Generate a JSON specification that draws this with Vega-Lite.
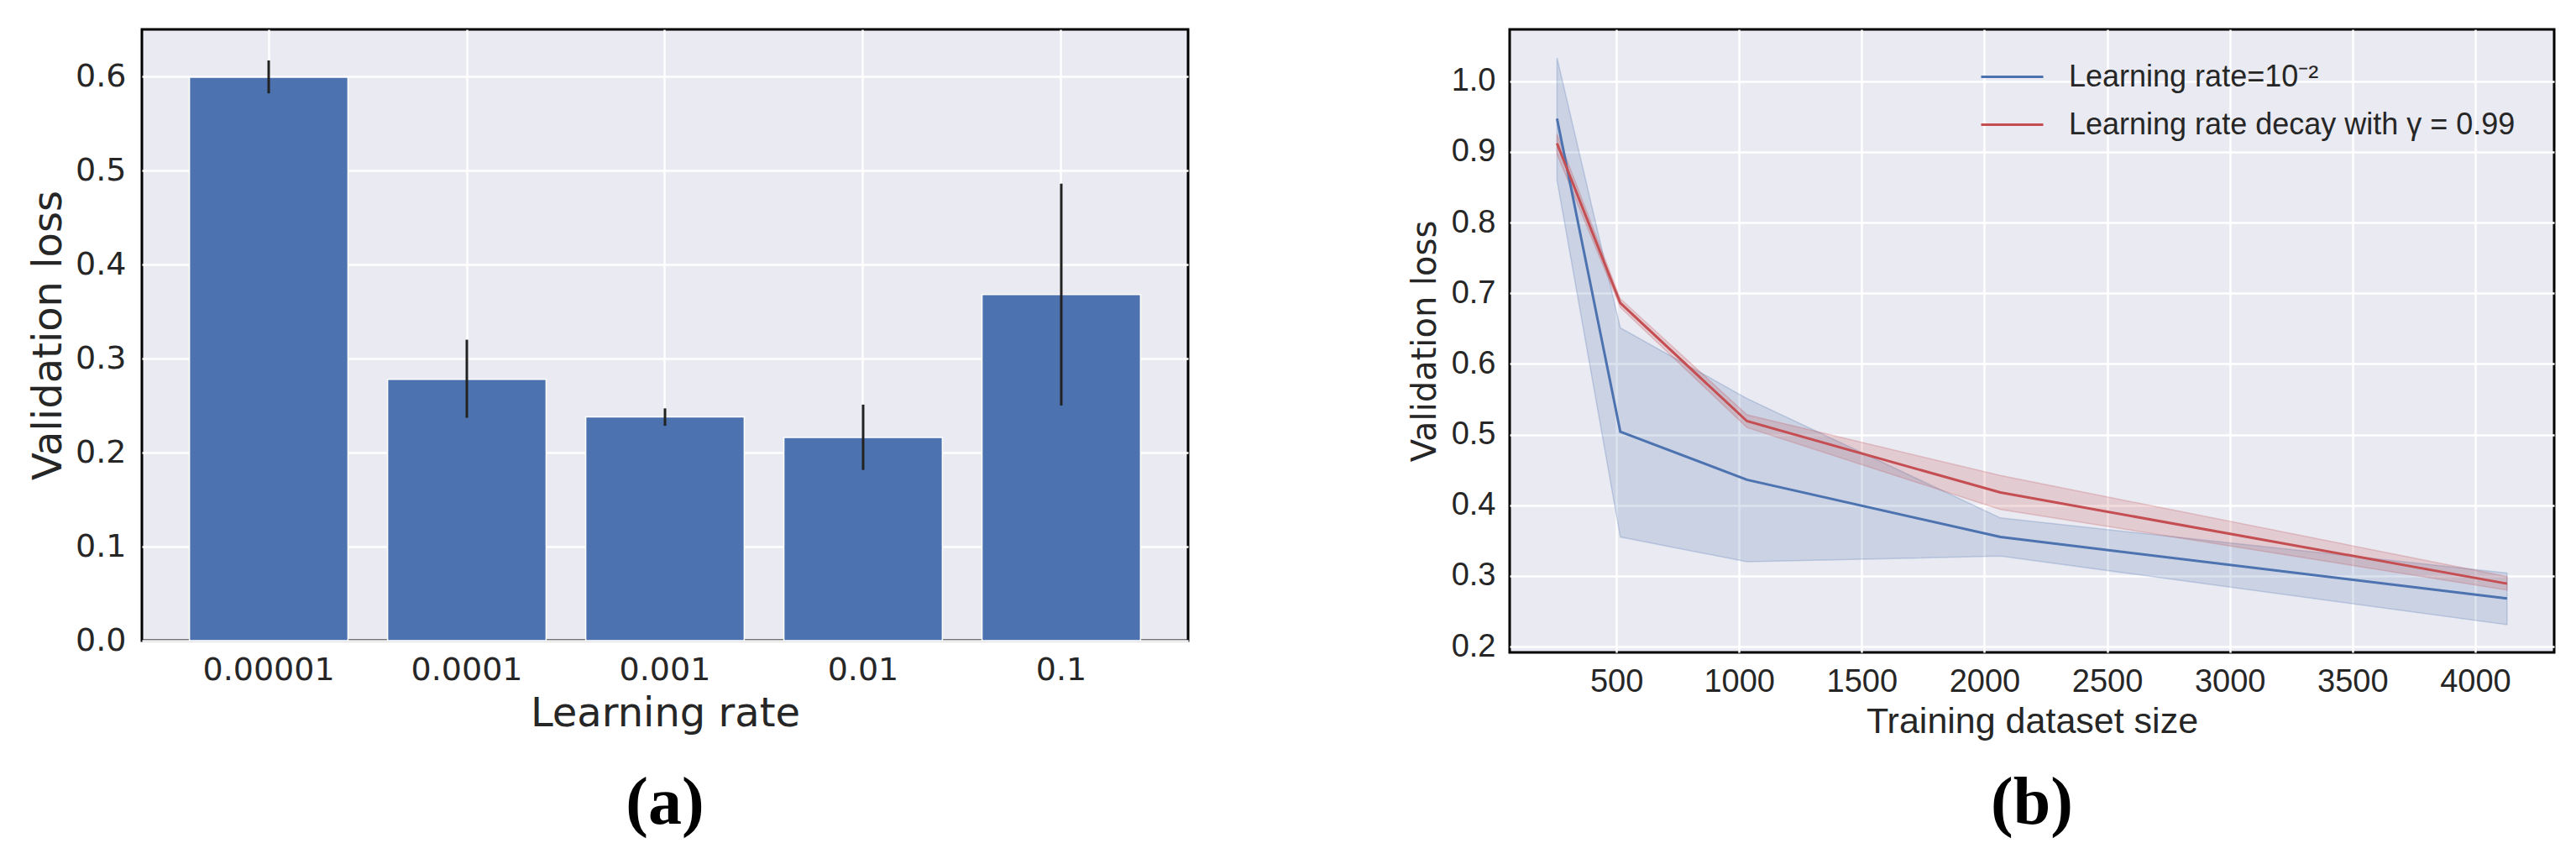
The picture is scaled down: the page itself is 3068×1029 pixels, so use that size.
{
  "$schema": "https://vega.github.io/schema/vega-lite/v6.json",
  "background": "white",
  "padding": {"left": 33, "top": 33, "right": 0, "bottom": 0},
  "spacing": 258,
  "config": {
    "view": {"fill": "#EAEAF2", "stroke": "black", "strokeWidth": 3},
    "axis": {"domain": false, "ticks": false, "tickSize": 0, "grid": true, "gridColor": "white", "gridWidth": 2.5, "gridOpacity": 1, "labelColor": "#262626", "titleColor": "#262626", "titleFontWeight": "normal"}
  },
  "hconcat": [
    {
      "width": 1246,
      "height": 728,
      "title": {"text": "(a)", "orient": "bottom", "anchor": "middle", "frame": "group", "font": "Liberation Serif", "fontWeight": "bold", "fontSize": 80, "color": "black", "offset": 44},
      "data": {"values": [
        {"lr": "0.00001", "loss": 0.599, "lo": 0.582, "hi": 0.617},
        {"lr": "0.0001", "loss": 0.278, "lo": 0.237, "hi": 0.320},
        {"lr": "0.001", "loss": 0.238, "lo": 0.2285, "hi": 0.247},
        {"lr": "0.01", "loss": 0.216, "lo": 0.1815, "hi": 0.251},
        {"lr": "0.1", "loss": 0.368, "lo": 0.250, "hi": 0.486}
      ]},
      "encoding": {
        "x": {"field": "lr", "type": "nominal", "sort": null,
          "scale": {"paddingInner": 0.2, "paddingOuter": 0.24},
          "axis": {"title": "Learning rate", "labelAngle": 0, "labelFont": "DejaVu Sans", "labelFontSize": 38, "labelPadding": 16, "titleFont": "DejaVu Sans", "titleFontSize": 48, "titlePadding": 9}}
      },
      "layer": [
        {
          "mark": {"type": "bar", "color": "#4C72B0", "stroke": "white", "strokeWidth": 1.5},
          "encoding": {
            "y": {"field": "loss", "type": "quantitative",
              "scale": {"domain": [0, 0.65], "nice": false},
              "axis": {"title": "Validation loss", "values": [0, 0.1, 0.2, 0.3, 0.4, 0.5, 0.6], "format": ".1f", "labelFont": "DejaVu Sans", "labelFontSize": 38, "labelPadding": 19, "titleFont": "DejaVu Sans", "titleFontSize": 48, "titlePadding": 7}}
          }
        },
        {
          "mark": {"type": "rule", "color": "#222222", "strokeWidth": 3},
          "encoding": {
            "y": {"field": "lo", "type": "quantitative"},
            "y2": {"field": "hi"}
          }
        }
      ]
    },
    {
      "width": 1244,
      "height": 742,
      "title": {"text": "(b)", "orient": "bottom", "anchor": "middle", "frame": "group", "font": "Liberation Serif", "fontWeight": "bold", "fontSize": 80, "color": "black", "offset": 37},
      "data": {"values": [
        {"key": "lr", "series": "Learning rate=10⁻²", "size": 258, "loss": 0.947, "lo": 0.860, "hi": 1.033},
        {"key": "lr", "series": "Learning rate=10⁻²", "size": 516, "loss": 0.504, "lo": 0.355, "hi": 0.651},
        {"key": "lr", "series": "Learning rate=10⁻²", "size": 1032, "loss": 0.436, "lo": 0.320, "hi": 0.551},
        {"key": "lr", "series": "Learning rate=10⁻²", "size": 2065, "loss": 0.355, "lo": 0.328, "hi": 0.382},
        {"key": "lr", "series": "Learning rate=10⁻²", "size": 4130, "loss": 0.268, "lo": 0.231, "hi": 0.304},
        {"key": "decay", "series": "Learning rate decay with γ = 0.99", "size": 258, "loss": 0.912, "lo": 0.897, "hi": 0.925},
        {"key": "decay", "series": "Learning rate decay with γ = 0.99", "size": 516, "loss": 0.686, "lo": 0.680, "hi": 0.692},
        {"key": "decay", "series": "Learning rate decay with γ = 0.99", "size": 1032, "loss": 0.519, "lo": 0.510, "hi": 0.528},
        {"key": "decay", "series": "Learning rate decay with γ = 0.99", "size": 2065, "loss": 0.418, "lo": 0.394, "hi": 0.442},
        {"key": "decay", "series": "Learning rate decay with γ = 0.99", "size": 4130, "loss": 0.289, "lo": 0.280, "hi": 0.299}
      ]},
      "encoding": {
        "x": {"field": "size", "type": "quantitative",
          "scale": {"domain": [65, 4322], "nice": false, "zero": false},
          "axis": {"title": "Training dataset size", "values": [500, 1000, 1500, 2000, 2500, 3000, 3500, 4000], "format": "d", "labelFont": "Liberation Sans", "labelFontSize": 38, "labelPadding": 16, "titleFont": "Liberation Sans", "titleFontSize": 43, "titlePadding": 7}}
      },
      "layer": [
        {
          "transform": [{"filter": "datum.key === 'lr'"}],
          "mark": {"type": "area", "fill": "#4C72B0", "fillOpacity": 0.2, "stroke": "#4C72B0", "strokeOpacity": 0.25, "strokeWidth": 1.5},
          "encoding": {
            "y": {"field": "lo", "type": "quantitative",
              "scale": {"domain": [0.1917, 1.0733], "nice": false, "zero": false},
              "axis": {"title": "Validation loss", "values": [0.2, 0.3, 0.4, 0.5, 0.6, 0.7, 0.8, 0.9, 1.0], "format": ".1f", "labelFont": "Liberation Sans", "labelFontSize": 38, "labelPadding": 17, "titleFont": "DejaVu Sans", "titleFontSize": 40, "titlePadding": 11}},
            "y2": {"field": "hi"}
          }
        },
        {
          "transform": [{"filter": "datum.key === 'decay'"}],
          "mark": {"type": "area", "fill": "#C44E52", "fillOpacity": 0.2, "stroke": "#C44E52", "strokeOpacity": 0.25, "strokeWidth": 1.5},
          "encoding": {
            "y": {"field": "lo", "type": "quantitative"},
            "y2": {"field": "hi"}
          }
        },
        {
          "mark": {"type": "line", "strokeWidth": 3},
          "encoding": {
            "y": {"field": "loss", "type": "quantitative"},
            "color": {"field": "series", "type": "nominal",
              "scale": {"domain": ["Learning rate=10⁻²", "Learning rate decay with γ = 0.99"], "range": ["#4C72B0", "#C44E52"]},
              "legend": {"orient": "none", "legendX": 2189, "legendY": 18, "title": null, "padding": 0, "symbolType": "stroke", "symbolSize": 5476, "symbolStrokeWidth": 3, "labelFont": "Liberation Sans", "labelFontSize": 36, "labelColor": "#262626", "labelOffset": 29, "rowPadding": -22, "labelLimit": 1000}}
          }
        }
      ]
    }
  ]
}
